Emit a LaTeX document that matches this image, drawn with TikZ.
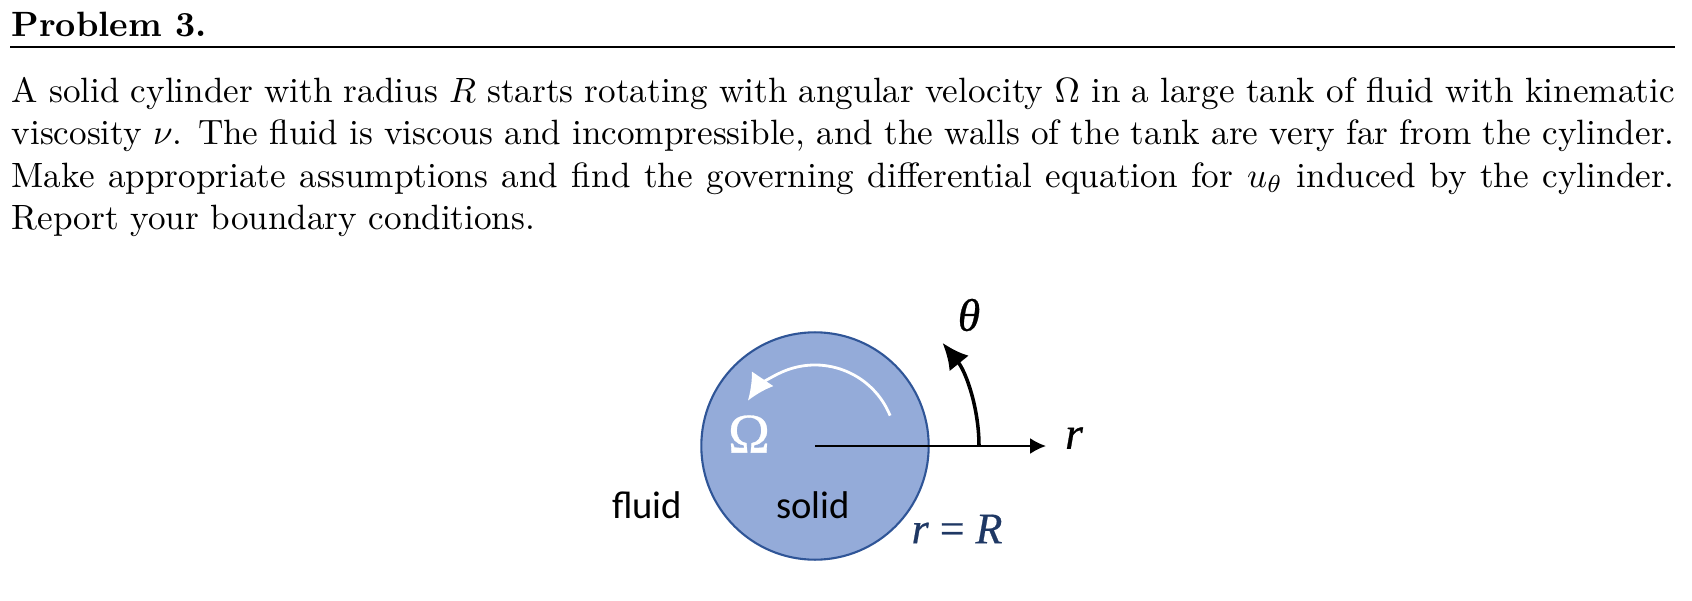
\documentclass[tikz,border=0pt]{standalone}
\usepackage{amsfonts,amsmath,amssymb}
\usepackage{fontspec}
\newfontfamily\calibrifont{Carlito}
\newfontfamily\cambriafont[FakeBold=0.5]{Liberation Serif}
\usetikzlibrary{calc,arrows.meta}

\definecolor{solidfill}{HTML}{94ABD9}
\definecolor{solidedge}{HTML}{2F5597}
\definecolor{labelblue}{HTML}{1F3864}

\tikzset{
  bodytext/.style={anchor=north west,inner sep=0pt,text width=16.63cm,align=justify,font=\fontsize{10}{12.1}\selectfont},
  sanslabel/.style={inner sep=0pt,font=\calibrifont\fontsize{11}{12}\selectfont},
  mathlabel/.style={inner sep=0pt,font=\cambriafont\itshape\fontsize{13}{14}\selectfont},
}

\begin{document}
\begin{tikzpicture}

\useasboundingbox (0,0) rectangle (16.92,6);

\node[anchor=base west,inner sep=0pt,font=\fontsize{10}{12}\bfseries\selectfont] (title) at (0.11,5.63) {Problem 3.};
\draw[line width=0.45pt] (0.10,5.53)--(16.75,5.53);

\node[bodytext] (body) at (0.11,5.235) {A solid cylinder with radius $R$ starts rotating with angular velocity $\Omega$ in a large tank of fluid with kinematic viscosity $\nu$. The fluid is viscous and incompressible, and the walls of the tank are very far from the cylinder. Make appropriate assumptions and find the governing differential equation for $u_\theta$ induced by the cylinder. Report your boundary conditions.};

\coordinate (centre) at (8.15,1.54);
\filldraw[fill=solidfill,draw=solidedge,line width=0.6pt] (centre) circle (1.137);

\coordinate (rtip) at (10.46,1.54);
\draw[-{Latex[length=4.5pt,width=4.5pt]},line width=0.6pt] (centre)--(rtip);
\node[mathlabel] (rlabel) at (10.74,1.62) {r};

\draw[-{Latex[length=7.5pt,width=7pt]},line width=1pt] ($(centre)+(0:1.64)$) arc (0:39:1.64);
\node[mathlabel] (thetalabel) at (9.69,2.85) {θ};

\draw[-{Latex[length=7.5pt,width=7.5pt]},white,line width=0.8pt] ($(centre)+(22:0.81)$) arc (22:146:0.81);
\node[mathlabel,white,font=\cambriafont\fontsize{16}{18}\selectfont] (omegalabel) at (7.49,1.66) {Ω};

\node[sanslabel] (fluidlabel) at (6.47,0.95) {fluid};
\node[sanslabel] (solidlabel) at (8.13,0.95) {solid};
\node[mathlabel,labelblue,font=\cambriafont\fontsize{12.5}{14}\selectfont] (boundlabel) at (9.57,0.71) {\textit{r} = \textit{R}};

\end{tikzpicture}
\end{document}
